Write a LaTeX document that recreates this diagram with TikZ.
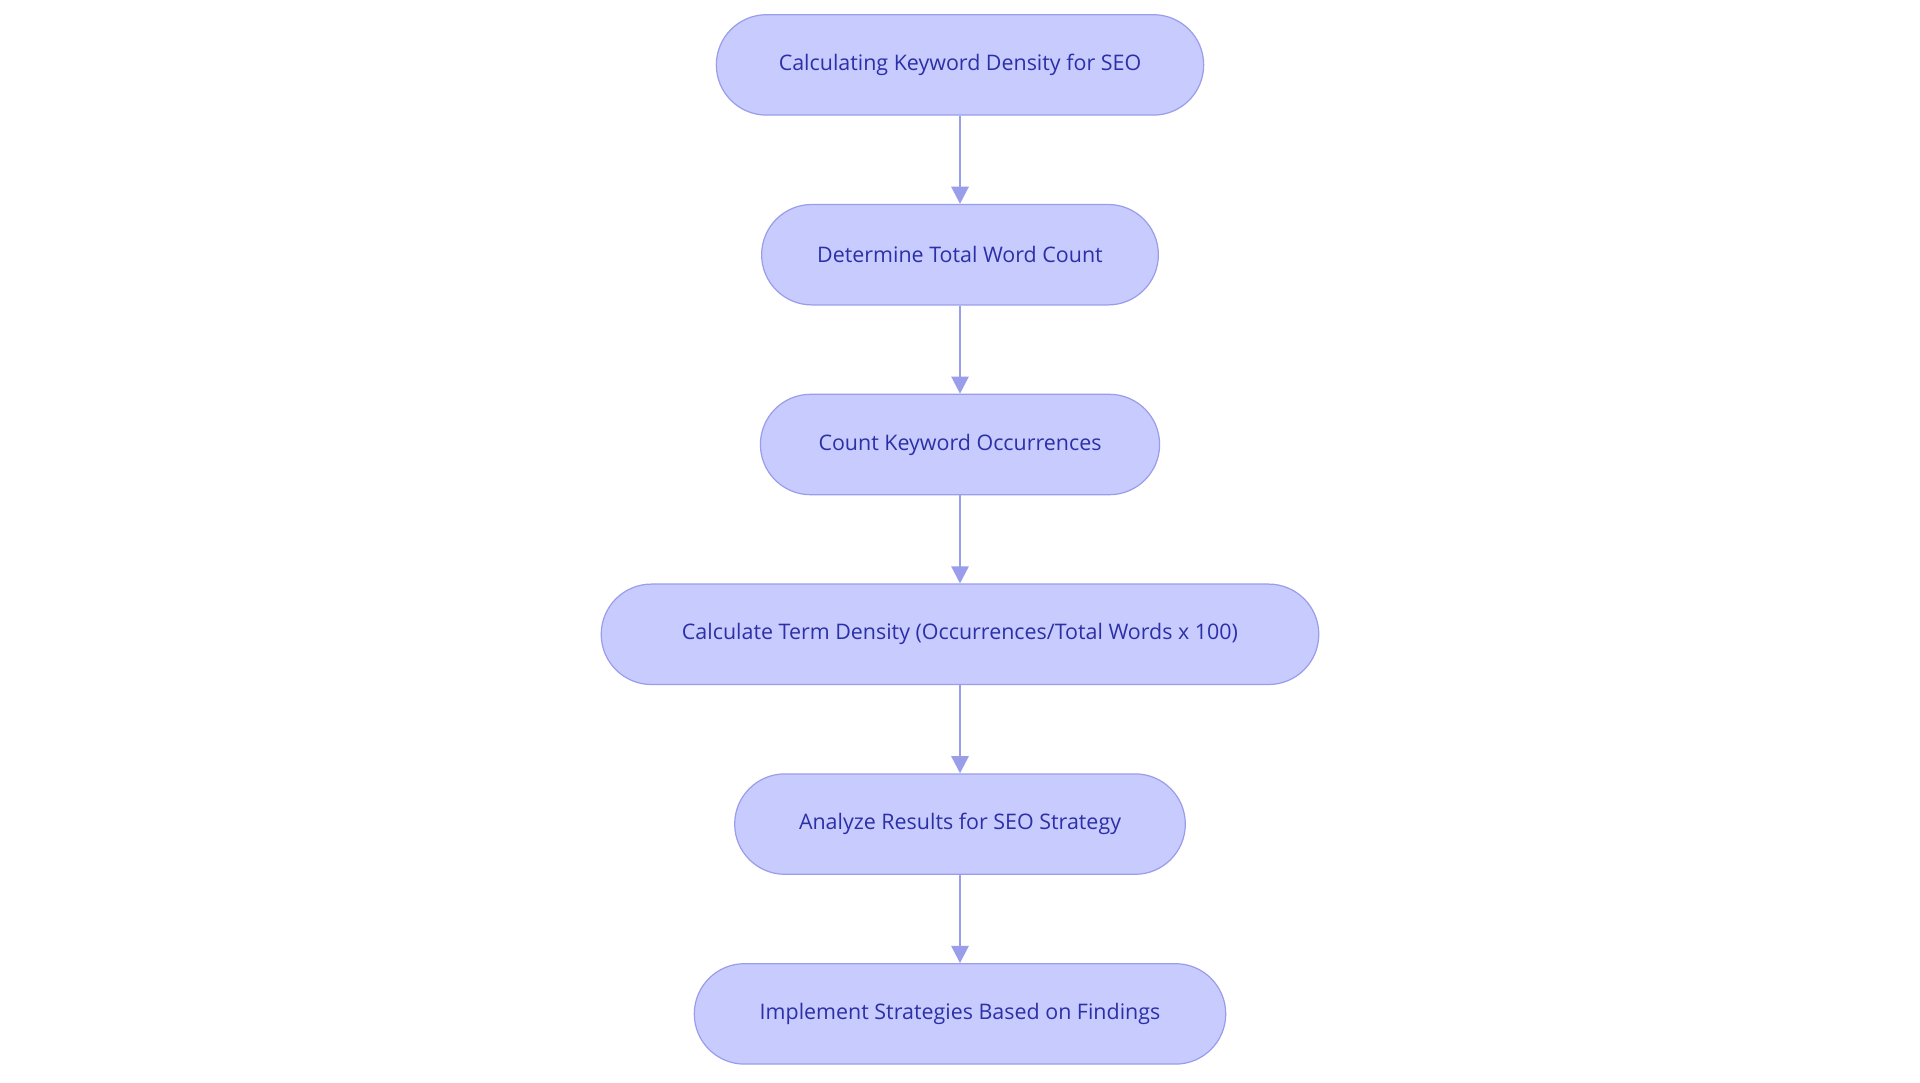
\documentclass[tikz,border=0pt]{standalone}
\usepackage{fontspec}
\setmainfont{Open Sans}
\usetikzlibrary{arrows.meta}
\definecolor{boxfill}{HTML}{C8CBFE}
\definecolor{boxline}{HTML}{9A9EEA}
\definecolor{txt}{HTML}{2C30A6}
\begin{document}
\begin{tikzpicture}[x=1pt,y=-1pt,
  box/.style={rounded corners=41pt,draw=boxline,fill=boxfill,text=txt,minimum height=82pt,inner sep=0pt,font=\fontsize{17.5}{20}\selectfont,line width=1pt},
  arr/.style={draw=boxline,line width=2pt,-{Triangle[length=14pt,width=14pt]}}]
\useasboundingbox[fill=white] (0,0) rectangle (1568,884);
\node[box,minimum width=398pt] (a) at (784,53) {Calculating Keyword Density for SEO};
\node[box,minimum width=324pt] (b) at (784,208) {Determine Total Word Count};
\node[box,minimum width=326pt] (c) at (784,363) {Count Keyword Occurrences};
\node[box,minimum width=586pt] (d) at (784,518) {Calculate Term Density (Occurrences/Total Words x 100)};
\node[box,minimum width=368pt] (e) at (784,673) {Analyze Results for SEO Strategy};
\node[box,minimum width=434pt] (f) at (784,828) {Implement Strategies Based on Findings};
\draw[arr] (a) -- (b);
\draw[arr] (b) -- (c);
\draw[arr] (c) -- (d);
\draw[arr] (d) -- (e);
\draw[arr] (e) -- (f);
\end{tikzpicture}
\end{document}
